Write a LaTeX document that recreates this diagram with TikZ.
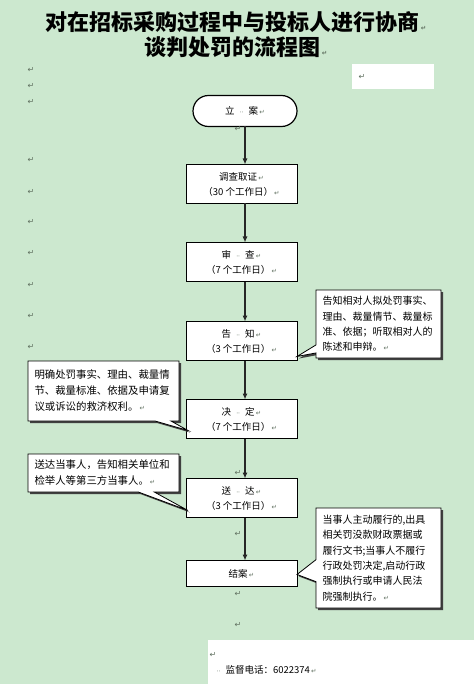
\documentclass[tikz,border=0pt]{standalone}
\usepackage{fontspec}
\setmainfont{Noto Sans CJK SC}
\newfontfamily\markfont{DejaVu Sans}
\usepackage{xcolor}
\usepackage{tikz}
\usetikzlibrary{shapes.callouts, shadows, arrows.meta, positioning}
\definecolor{eyegreen}{RGB}{204,232,207}
\definecolor{markgray}{RGB}{96,112,96}
\definecolor{shadowgray}{RGB}{64,64,64}
\newcommand{\retmk}{{\markfont\fontsize{6.5}{6.5}\selectfont\color{markgray}\,↵}}
\newcommand{\spmk}{\makebox[14pt]{\markfont\fontsize{6}{6}\selectfont\color{markgray}··}}

\begin{document}
\begin{tikzpicture}[
    x=1pt, y=-1pt,
    stage/.style={rectangle, draw=black, line width=0.8pt, fill=white,
                  minimum width=111pt, minimum height=#1, align=center,
                  inner sep=2pt, outer sep=0pt,
                  font=\fontsize{9.5}{15}\selectfont},
    stage/.default=39pt,
    note/.style={rectangle callout, draw=black, line width=0.8pt, fill=white,
                 text width=#1, align=left, inner xsep=6.5pt,
                 font=\fontsize{10}{15.4}\selectfont,
                 drop shadow={shadow xshift=2pt, shadow yshift=-2pt,
                              fill=shadowgray, opacity=1}},
    flow/.style={-{Latex[length=6pt, width=5pt]}, line width=1.1pt,
                 draw=black!85},
    retnode/.style={inner sep=0pt, font=\markfont\fontsize{8}{8}\selectfont,
                    text=markgray},
]
\useasboundingbox (0,0) rectangle (474,684);
\fill[eyegreen] (0,0) rectangle (474,684);
\fill[white] (352,64) rectangle (434,89);
\fill[white] (208,640) rectangle (474,684);

\node[font=\fontsize{22}{25}\selectfont\bfseries, align=center] (title)
  at (236,34.5) {对在招标采购过程中与投标人进行协商\retmk\\谈判处罚的流程图\retmk};

% main chain
\node[stage=31pt, rounded corners=15.5pt, minimum width=104pt,
      line width=1.2pt] (lian) at (245,111) {立\spmk 案\retmk};
\node[stage, below=38pt of lian, xshift=-3.5pt] (diaocha)
  {调查取证\retmk\\（30 个工作日）\retmk};
\node[stage, below=39pt of diaocha] (shencha)
  {审\spmk 查\retmk\\（7 个工作日）\retmk};
\node[stage, below=40pt of shencha] (gaozhi)
  {告\spmk 知\retmk\\（3 个工作日）\retmk};
\node[stage, below=39pt of gaozhi] (jueding)
  {决\spmk 定\retmk\\（7 个工作日）\retmk};
\node[stage, below=40pt of jueding] (songda)
  {送\spmk 达\retmk\\（3 个工作日）\retmk};
\node[stage=26pt, below=43pt of songda] (jiean) {结案\retmk};

\draw[flow] (lian.south) -- (lian.south |- diaocha.north);
\foreach \a/\b in {diaocha/shencha, shencha/gaozhi, gaozhi/jueding,
                   jueding/songda, songda/jiean}
  \draw[flow] ([xshift=3.5pt]\a.south) -- ([xshift=3.5pt]\b.north);

% callouts
\node[note=112pt, minimum height=68pt, callout pointer width=8pt,
      callout absolute pointer={([yshift=4pt]gaozhi.south east)}]
  (notegaozhi) at (378.5,324)
  {告知相对人拟处罚事实、\\理由、裁量情节、裁量标\\准、依据；听取相对人的\\陈述和申辩。\retmk};
\node[note=138pt, minimum height=60pt, callout pointer width=16pt,
      font=\fontsize{10.4}{16}\selectfont,
      callout absolute pointer={([xshift=2pt, yshift=8pt]jueding.south west)}]
  (notejueding) at (103.5,391)
  {明确处罚事实、理由、裁量情\\节、裁量标准、依据及申请复\\议或诉讼的救济权利。\retmk\\[4pt]};
\node[note=138pt, minimum height=38pt, callout pointer width=16pt,
      font=\fontsize{10.4}{16}\selectfont,
      callout absolute pointer={([xshift=2pt, yshift=7pt]songda.south west)}]
  (notesongda) at (103.5,473)
  {送达当事人，告知相关单位和\\检举人等第三方当事人。\retmk};
\node[note=112pt, minimum height=100pt, callout pointer width=22pt,
      callout absolute pointer={([yshift=-1pt]jiean.east)}]
  (notejiean) at (378.5,558)
  {当事人主动履行的,出具\\相关罚没款财政票据或\\履行文书;当事人不履行\\行政处罚决定,启动行政\\强制执行或申请人民法\\院强制执行。\retmk};

\node[anchor=west, font=\fontsize{9.5}{12}\selectfont] (hotline)
  at (208,670) {\spmk 监督电话：6022374\retmk};

% paragraph marks
\foreach \px/\py [count=\i] in {31/70, 31/86, 31/102, 31/160, 31/192,
    31/222, 31/253, 31/285, 31/316, 31/347, 238/129, 238/473, 238/534,
    238/594, 238/625, 362/77, 213/655}
  \node[retnode] (ret\i) at (\px,\py) {↵};
\end{tikzpicture}
\end{document}
